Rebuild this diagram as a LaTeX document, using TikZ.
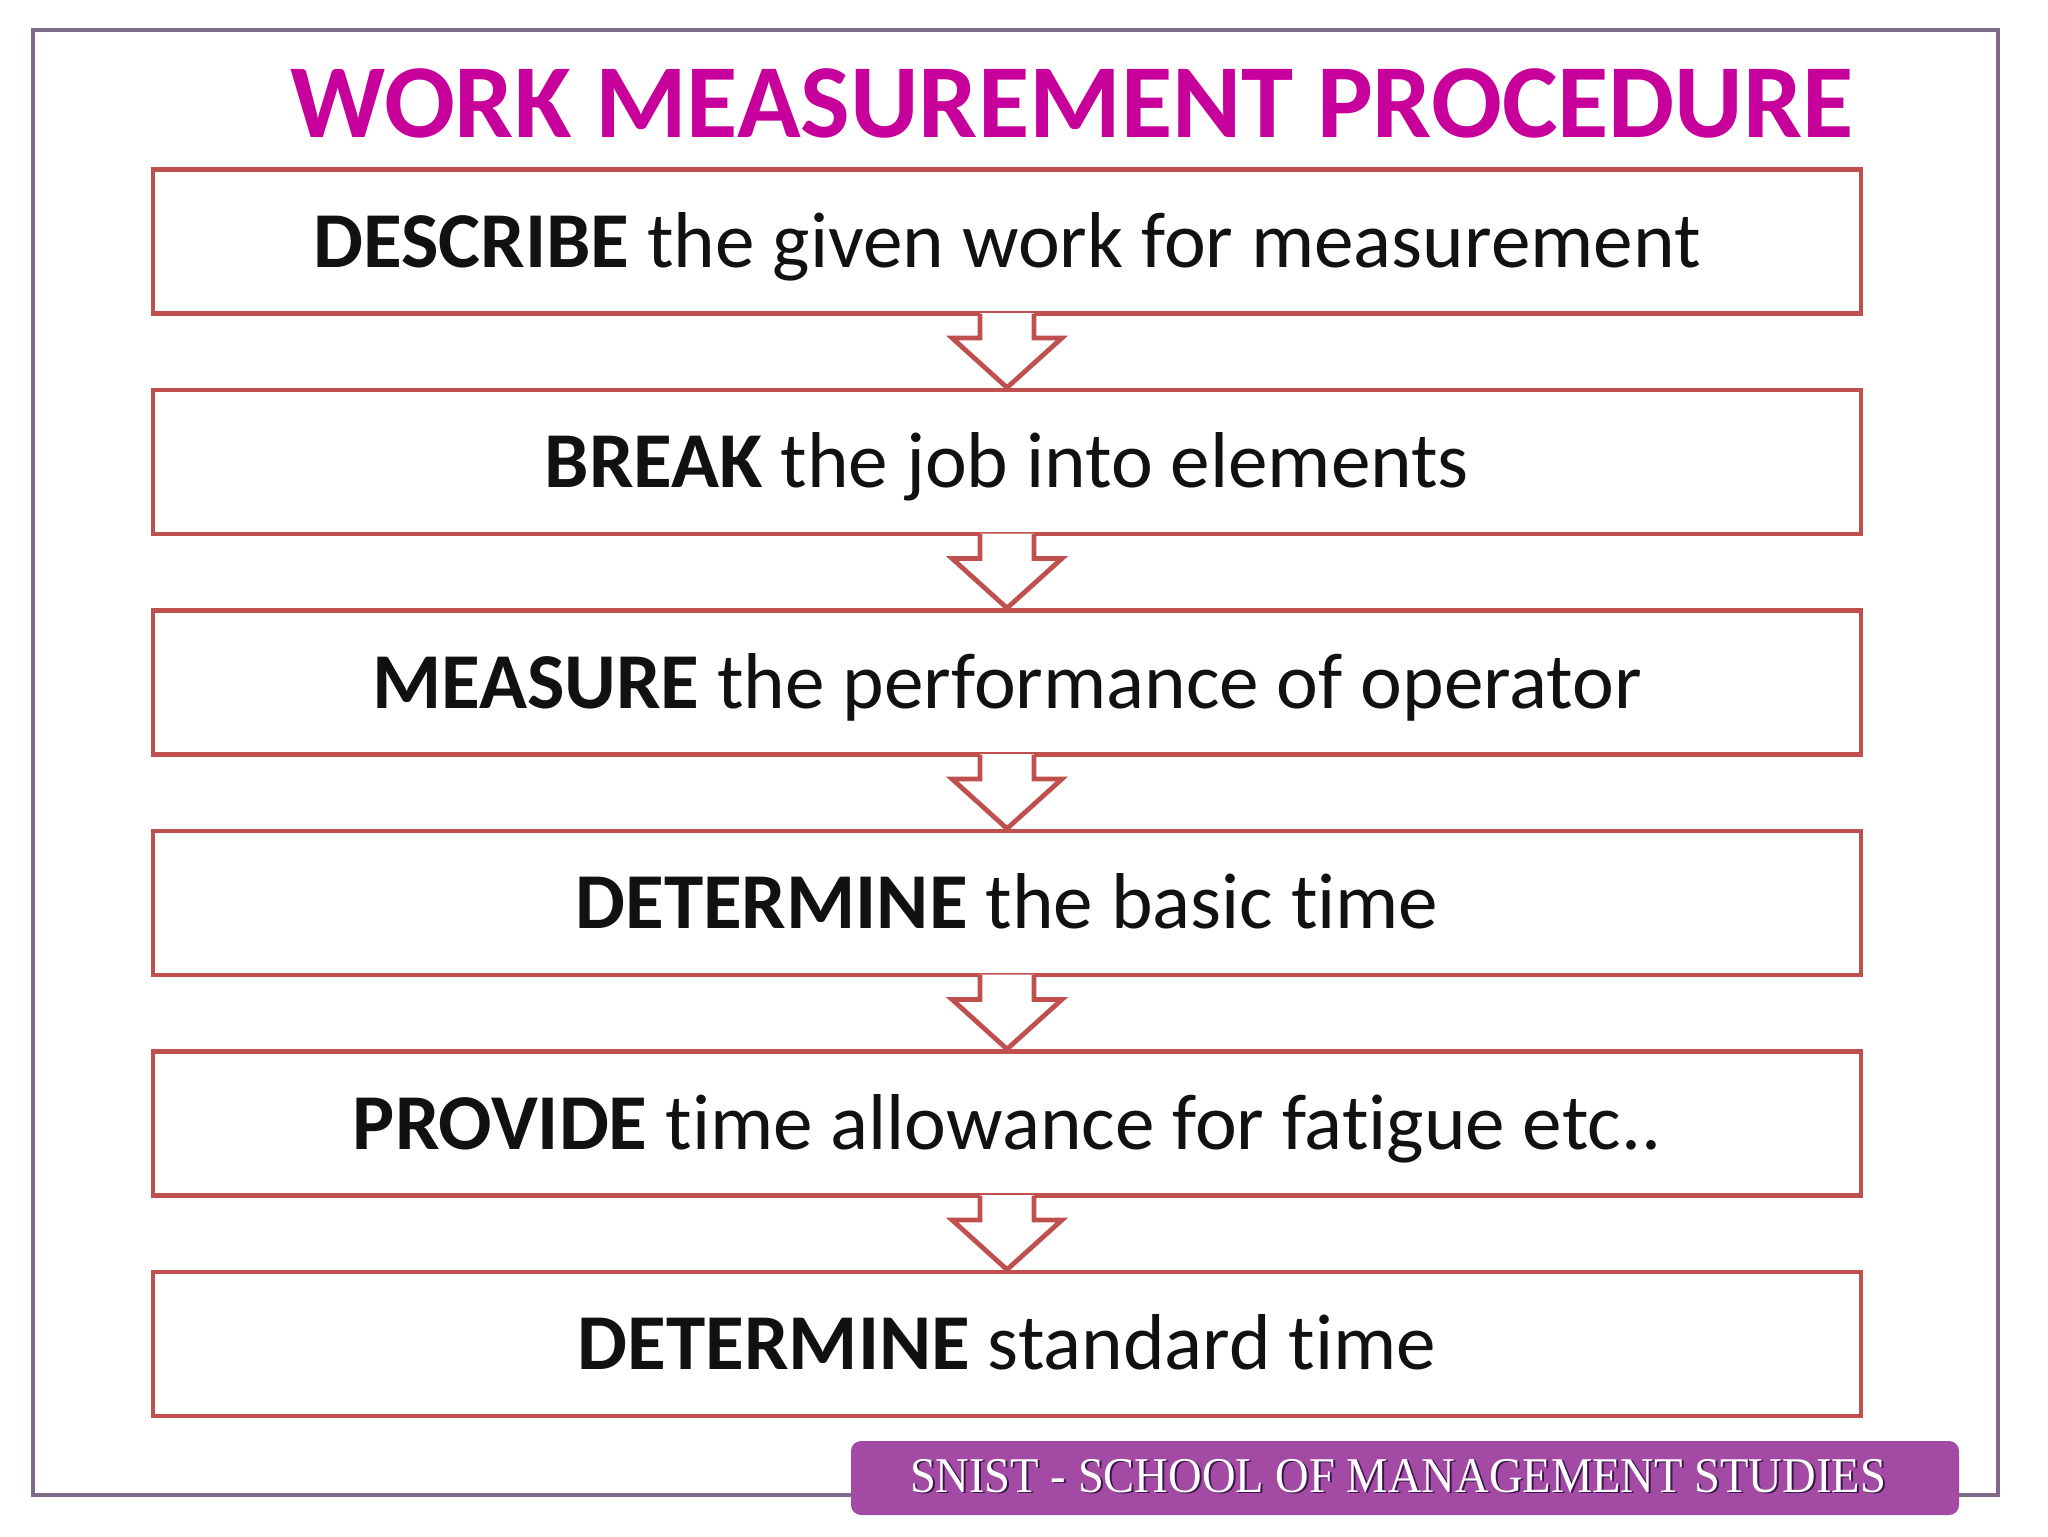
\documentclass[tikz,border=0pt]{standalone}
\usepackage{fontspec}
\setmainfont[Ligatures=NoCommon]{Carlito}
\newfontfamily\footfont{Liberation Serif}
\usetikzlibrary{calc}
\definecolor{boxred}{RGB}{192,80,77}
\definecolor{titlemag}{RGB}{200,0,155}
\definecolor{framegrey}{RGB}{128,106,138}
\definecolor{footpurple}{RGB}{162,74,164}
\definecolor{footshadow}{RGB}{60,20,75}
\definecolor{textblack}{RGB}{17,17,17}
\begin{document}
\begin{tikzpicture}[x=0.5pt,y=-0.5pt,
  stepbox/.style={draw=boxred, line width=2.4pt, fill=white, minimum width=854pt,
    minimum height=72pt, inner sep=0pt, font=\fontsize{39.6pt}{48pt}\selectfont,
    text=textblack, text height=25.5pt, text depth=0pt},
  flowarrow/.style={draw=boxred, line width=2.4pt, miter limit=10},
  foottxt/.style={anchor=base, inner sep=0pt, font=\footfont\fontsize{25pt}{30pt}\selectfont}
]
\useasboundingbox (0,0) rectangle (2048,1536);
\fill[white] (0,0) rectangle (2048,1536);
\draw[framegrey, line width=1.6pt] (33,30) rectangle (1998,1495);
\node[anchor=base, inner sep=0pt, text=titlemag, font=\fontsize{52.5pt}{60pt}\selectfont\bfseries] (title) at (1072,137) {WORK MEASUREMENT PROCEDURE};

\node[stepbox] (b1) at (1007,241.5) {\textbf{DESCRIBE} the given work for measurement};
\node[stepbox] (b2) at (1007,462) {\textbf{BREAK} the job into elements};
\node[stepbox] (b3) at (1007,682.5) {\textbf{MEASURE} the performance of operator};
\node[stepbox] (b4) at (1007,903) {\textbf{DETERMINE} the basic time};
\node[stepbox] (b5) at (1007,1123.5) {\textbf{PROVIDE} time allowance for fatigue etc..};
\node[stepbox] (b6) at (1007,1344) {\textbf{DETERMINE} standard time};

\foreach \a/\b in {b1/b2,b2/b3,b3/b4,b4/b5,b5/b6}{
  \path[fill=white] ([xshift=-13.5pt,yshift=1.4pt]\a.south) -- ([xshift=-13.5pt,yshift=-11pt]\a.south)
    -- ([xshift=-27.5pt,yshift=-11pt]\a.south) -- (\b.north) -- ([xshift=27.5pt,yshift=-11pt]\a.south)
    -- ([xshift=13.5pt,yshift=-11pt]\a.south) -- ([xshift=13.5pt,yshift=1.4pt]\a.south) -- cycle;
  \draw[flowarrow] ([xshift=-13.5pt,yshift=1.2pt]\a.south) -- ([xshift=-13.5pt,yshift=-11pt]\a.south)
    -- ([xshift=-27.5pt,yshift=-11pt]\a.south) -- (\b.north) -- ([xshift=27.5pt,yshift=-11pt]\a.south)
    -- ([xshift=13.5pt,yshift=-11pt]\a.south) -- ([xshift=13.5pt,yshift=1.2pt]\a.south);
}

\node[fill=footpurple, rounded corners=5pt, minimum width=554pt, minimum height=37pt, inner sep=0pt] (footer) at (1405,1478) {};
\node[foottxt, text=footshadow] (footshade) at (1400,1493.5) {\resizebox{488pt}{\height}{SNIST - SCHOOL OF MANAGEMENT STUDIES}};
\node[foottxt, text=white] (foottext) at (1398,1492) {\resizebox{488pt}{\height}{SNIST - SCHOOL OF MANAGEMENT STUDIES}};
\end{tikzpicture}
\end{document}
